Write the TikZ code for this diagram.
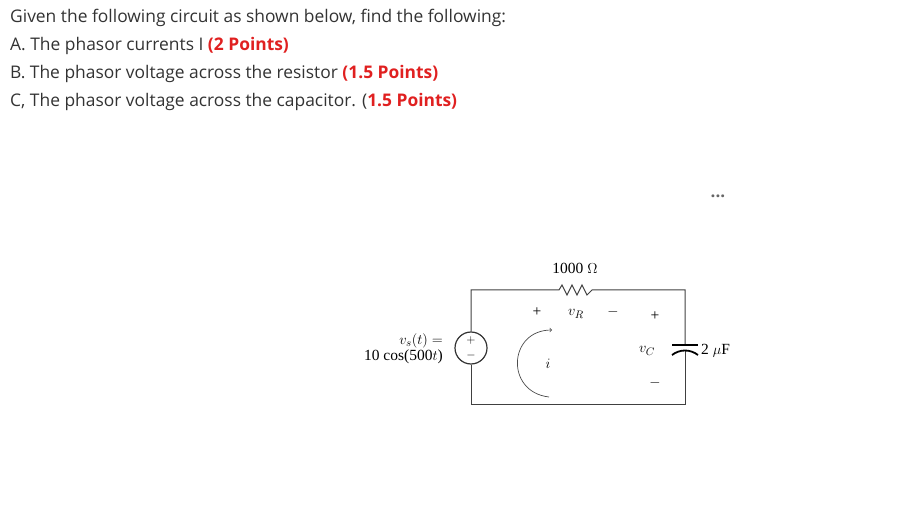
\documentclass[tikz,border=0pt]{standalone}
\usepackage{fontspec}
\setmainfont{Open Sans}
\newfontfamily\serifc{Liberation Serif}
\definecolor{pts}{HTML}{E02020}
\definecolor{txt}{HTML}{333333}
\begin{document}
\begin{tikzpicture}[x=1pt,y=-1pt,
  hdr/.style={anchor=west,inner sep=0,text=txt,font=\fontsize{17.4}{20}\selectfont},
  lbl/.style={inner sep=1,font=\serifc\fontsize{15.5}{16}\selectfont},
  wire/.style={line width=1pt,draw=black!75}]
\useasboundingbox (0,0) rectangle (900,526);
\node[hdr] (l1) at (10,18) {Given the following circuit as shown below, find the following:};
\node[hdr] (l2) at (10,46) {A. The phasor currents I \textcolor{pts}{\bfseries(2 Points)}};
\node[hdr] (l3) at (10,74) {B. The phasor voltage across the resistor \textcolor{pts}{\bfseries(1.5 Points)}};
\node[hdr] (l4) at (10,102) {C, The phasor voltage across the capacitor. (\textcolor{pts}{\bfseries1.5 Points)}};
\node[text=black!60,font=\bfseries\fontsize{17}{20}\selectfont] (dots) at (718,196) {...};
% circuit
\coordinate (tl) at (471,290); \coordinate (tr) at (685,290);
\coordinate (bl) at (471,405); \coordinate (br) at (685,405);
\coordinate (ra) at (559,290); \coordinate (rb) at (592,290);
\node[circle,draw=black!80,line width=1.2pt,minimum size=32,inner sep=0] (src) at (471,348) {};
\node[font=\fontsize{12}{12}\selectfont,inner sep=0] (sp) at (471,341) {$+$};
\node[font=\fontsize{12}{12}\selectfont,inner sep=0] (sm) at (471,356) {$-$};
\coordinate (c1) at (685,345); \coordinate (c2) at (685,351);
\draw[wire] (src.north) -- (tl) -- (ra)
  -- ++(3,-5) -- ++(5,10) -- ++(5,-10) -- ++(5,10) -- ++(5,-10) -- ++(5,10) -- (rb)
  -- (tr) -- (c1);
\draw[wire] (src.south) -- (bl) -- (br) -- (c2);
\draw[line width=1.8pt] (672,345) -- (698,345);
\draw[line width=1.8pt] (672,355) .. controls (680,349) and (690,349) .. (698,355);
\node[lbl,anchor=west] (cap) at (700,351) {2 $\mu$F};
\node[lbl] (r) at (575,268) {1000 $\Omega$};
\node[lbl,align=right,anchor=east] (vs) at (444,349) {$v_s(t) =$\\10 cos(500$t$)};
\node[lbl] (p1) at (537,312) {+};
\node[lbl] (vr) at (576,314) {$v_R$};
\node[lbl] (m1) at (613,312) {$-$};
\node[lbl] (p2) at (655,316) {+};
\node[lbl] (vc) at (647,351) {$v_C$};
\node[lbl] (m2) at (655,383) {$-$};
\node[lbl] (i) at (548,364) {$i$};
\coordinate (ia) at (549,397); \coordinate (ib) at (552,330);
\draw[black!70,line width=0.7pt,->] (ia) .. controls (505,392) and (508,330) .. (ib);
\end{tikzpicture}
\end{document}
